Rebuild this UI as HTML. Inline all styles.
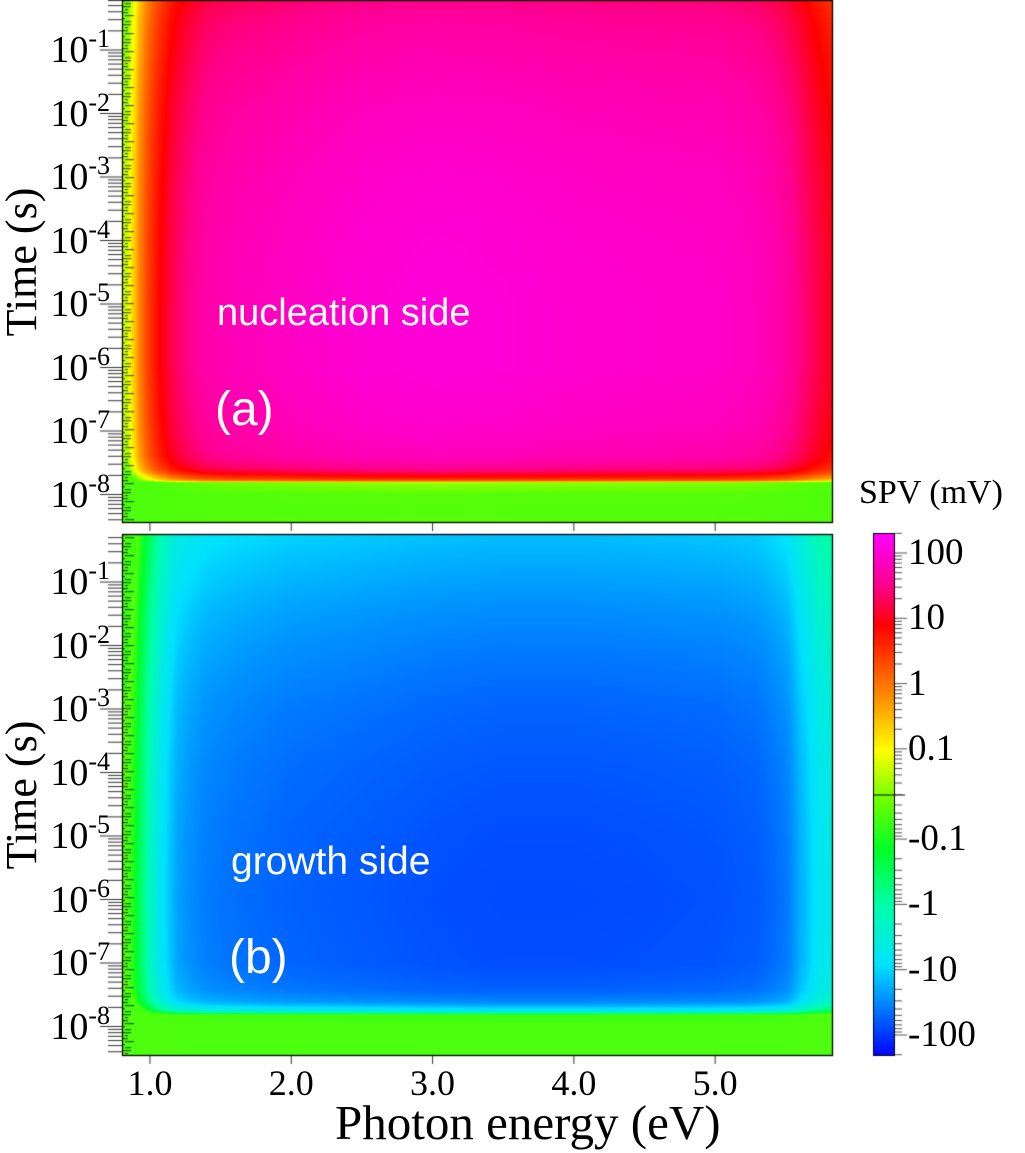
<!DOCTYPE html>
<html><head><meta charset="utf-8">
<style>
body{margin:0;background:#fff;width:1025px;height:1153px;overflow:hidden;position:relative;font-family:"Liberation Serif",serif}
canvas{position:absolute;left:0;top:0}
.t{position:absolute;white-space:nowrap}
</style></head><body>
<canvas id="c" width="1025" height="1153"></canvas>
<div id="labels"></div>
<script>
// ---- data ----
const energies = [0.80,0.85,0.90,0.95,1.00,1.05,1.10,1.15,1.20,1.30,1.40,1.60,1.80,2.00,2.50,3.00,3.50,4.00,4.50,5.00,5.30,5.50,5.60,5.70,5.83];
const ampA = [0.05,0.06,0.3,1.2,3,6,10,16,22,35,50,65,70,80,100,110,105,95,90,85,70,45,30,18,10];
const ampB = [-0.04,-0.05,-0.12,-0.5,-1.5,-4,-8,-14,-22,-30,-38,-45,-50,-55,-62,-70,-75,-75,-72,-68,-60,-40,-18,-8,-4];
const logTimes = [-8.45,-8.2,-8.0,-7.8,-7.7,-7.6,-7.4,-7.0,-6.0,-5.0,-4.0,-3.0,-2.0,-1.0,-0.5,-0.2];
const profA = [0.00003,0.00003,0.00004,0.0003,0.08,0.3,0.6,0.8,1.0,1.0,0.95,0.85,0.7,0.5,0.4,0.3];
const profB = [0.00003,0.00003,0.00004,0.0004,0.15,0.45,0.75,0.95,1.0,0.95,0.85,0.7,0.5,0.3,0.22,0.18];
const xTicks = [1.0,2.0,3.0,4.0,5.0];
const yTicks = [-1,-2,-3,-4,-5,-6,-7,-8];
const cbTicks = [100,10,1,0.1,-0.1,-1,-10,-100];
const cbLabels = ["100","10","1","0.1","-0.1","-1","-10","-100"];

// ---- axes ----
const X0=121.7, PXE=141.3, PL=122, PR=833;
const xs = e => X0 + (e-0.8)*PXE;
const xinv = px => 0.8 + (px-X0)/PXE;
const panels = [{top:0,bot:523,y1:50,amp:ampA,prof:profA},{top:534,bot:1056,y1:582,amp:ampB,prof:profB}];
const DEC=63.5;
const ys = (p,lt) => p.y1 + (-1-lt)*DEC;
const yinv = (p,py) => -1 - (py-p.y1)/DEC;
const cbPos = v => v>0 ? 553+(2-Math.log10(v))*65.3 : 1035-(2-Math.log10(-v))*65.3;
const stops=[[533,[255,0,255]],[585,[255,0,140]],[625,[255,0,0]],[690,[255,128,0]],[750,[255,255,0]],[800,[110,255,0]],[850,[0,255,40]],[905,[0,255,170]],[965,[0,225,255]],[1005,[0,130,255]],[1056,[0,0,255]]];
function colAt(y){
  if(y<=stops[0][0])return stops[0][1];
  for(let i=1;i<stops.length;i++){if(y<=stops[i][0]){const a=stops[i-1],b=stops[i],f=(y-a[0])/(b[0]-a[0]);return a[1].map((c,k)=>c+(b[1][k]-c)*f);}}
  return stops[stops.length-1][1];
}
function valColor(v){
  if(Math.abs(v)<0.03) return colAt(815+ (v<0?10:-30)*Math.abs(v)/0.03);
  return colAt(Math.min(1056,Math.max(533,cbPos(v))));
}
function interp(xa,ya,x){
  if(x<=xa[0])return ya[0];
  for(let i=1;i<xa.length;i++) if(x<=xa[i]){const f=(x-xa[i-1])/(xa[i]-xa[i-1]);return ya[i-1]+(ya[i]-ya[i-1])*f;}
  return ya[ya.length-1];
}
const cv=document.getElementById('c'),ctx=cv.getContext('2d');
panels.forEach(p=>{
  const w=PR-PL,h=p.bot-p.top,img=ctx.createImageData(w,h);
  for(let j=0;j<h;j++){
    const lt=yinv(p,p.top+j+0.5), pr=interp(logTimes,p.prof,lt);
    for(let i=0;i<w;i++){
      const e=xinv(PL+i+0.5), v=interp(energies,p.amp,e)*pr;
      const c=valColor(v), k=(j*w+i)*4;
      img.data[k]=c[0];img.data[k+1]=c[1];img.data[k+2]=c[2];img.data[k+3]=255;
    }
  }
  ctx.putImageData(img,PL,p.top);
  // noisy low-energy strip
  ctx.fillStyle='rgba(0,0,0,0.6)';
  for(let y=p.top;y<p.bot;y+=3){const w2=3+((y*7)%9);ctx.fillRect(PL+((y*13)%6),y,w2,1.2);}
  ctx.strokeStyle='#000';ctx.lineWidth=1.3;ctx.strokeRect(PL+0.5,p.top+0.5,PR-PL-1,p.bot-p.top-1);
  // y ticks
  ctx.lineWidth=1;ctx.strokeStyle='#333';
  for(let d=0;d<=8;d++){
    const base=-d;
    for(let m=1;m<=9;m++){
      const y=ys(p,base-1+Math.log10(m)); if(y<p.top||y>p.bot)continue;
      ctx.beginPath();ctx.moveTo(PL-(m==1?22:14),y);ctx.lineTo(PL,y);ctx.stroke();
    }
  }
  xTicks.forEach(e=>{ctx.beginPath();ctx.moveTo(xs(e),p.bot);ctx.lineTo(xs(e),p.bot+8);ctx.stroke();});
});
// colorbar
for(let y=533;y<1056;y++){const c=colAt(y);ctx.fillStyle=`rgb(${c.map(Math.round)})`;ctx.fillRect(873,y,22,1);}
ctx.strokeStyle='#000';ctx.lineWidth=1;ctx.strokeRect(873.5,533.5,21,522);
ctx.beginPath();ctx.moveTo(873,795);ctx.lineTo(905,795);ctx.stroke();
ctx.strokeStyle='#555';
[1,-1].forEach(s=>{for(let d=-2;d<=2;d++)for(let m=1;m<=9;m++){const v=s*Math.pow(10,d)*m;const y=cbPos(v);if(y<533||y>1056||(s>0&&y>795)||(s<0&&y<795))continue;ctx.beginPath();ctx.moveTo(895,y);ctx.lineTo(895+(m==1?12:7),y);ctx.stroke();}});

const L=document.getElementById('labels');
function lab(txt,name,css){const d=document.createElement('div');d.className='t';d.innerHTML=txt;d.style.cssText=css;


L.appendChild(d);return d;}
panels.forEach((p,pi)=>{
  yTicks.forEach(t=>{lab(`10<span style="font-size:26px;position:relative;top:-15px">${t}</span>`,'y-tick-label',`right:${1025-110}px;top:${ys(p,t)-22}px;font-size:38px;line-height:44px`);});
  lab('Time (s)','y-axis-title',`left:-58px;top:${(p.top+p.bot)/2-26}px;width:160px;text-align:center;font-size:44px;line-height:52px;transform:rotate(-90deg)`);
});
xTicks.forEach(e=>lab(e.toFixed(1),'x-tick-label',`left:${xs(e)-35}px;width:70px;text-align:center;top:1062px;font-size:36px`));
lab('Photon energy (eV)','x-axis-title','left:335px;top:1094px;font-size:49px');
cbTicks.forEach((v,i)=>lab(cbLabels[i],'colorbar-tick-label',`left:908px;top:${cbPos(v)-22}px;font-size:37px`));
lab('SPV (mV)','colorbar-title','left:859px;top:474px;font-size:34px');
const sans='font-family:"Liberation Sans",sans-serif;color:#fff;';
lab('nucleation side','annotation-nucleation',sans+'left:217px;top:292px;font-size:38px');
lab('(a)','panel-label-a',sans+'left:215px;top:382px;font-size:48px');
lab('growth side','annotation-growth',sans+'left:231px;top:840px;font-size:39px');
lab('(b)','panel-label-b',sans+'left:229px;top:930px;font-size:48px');
</script>
</body></html>
